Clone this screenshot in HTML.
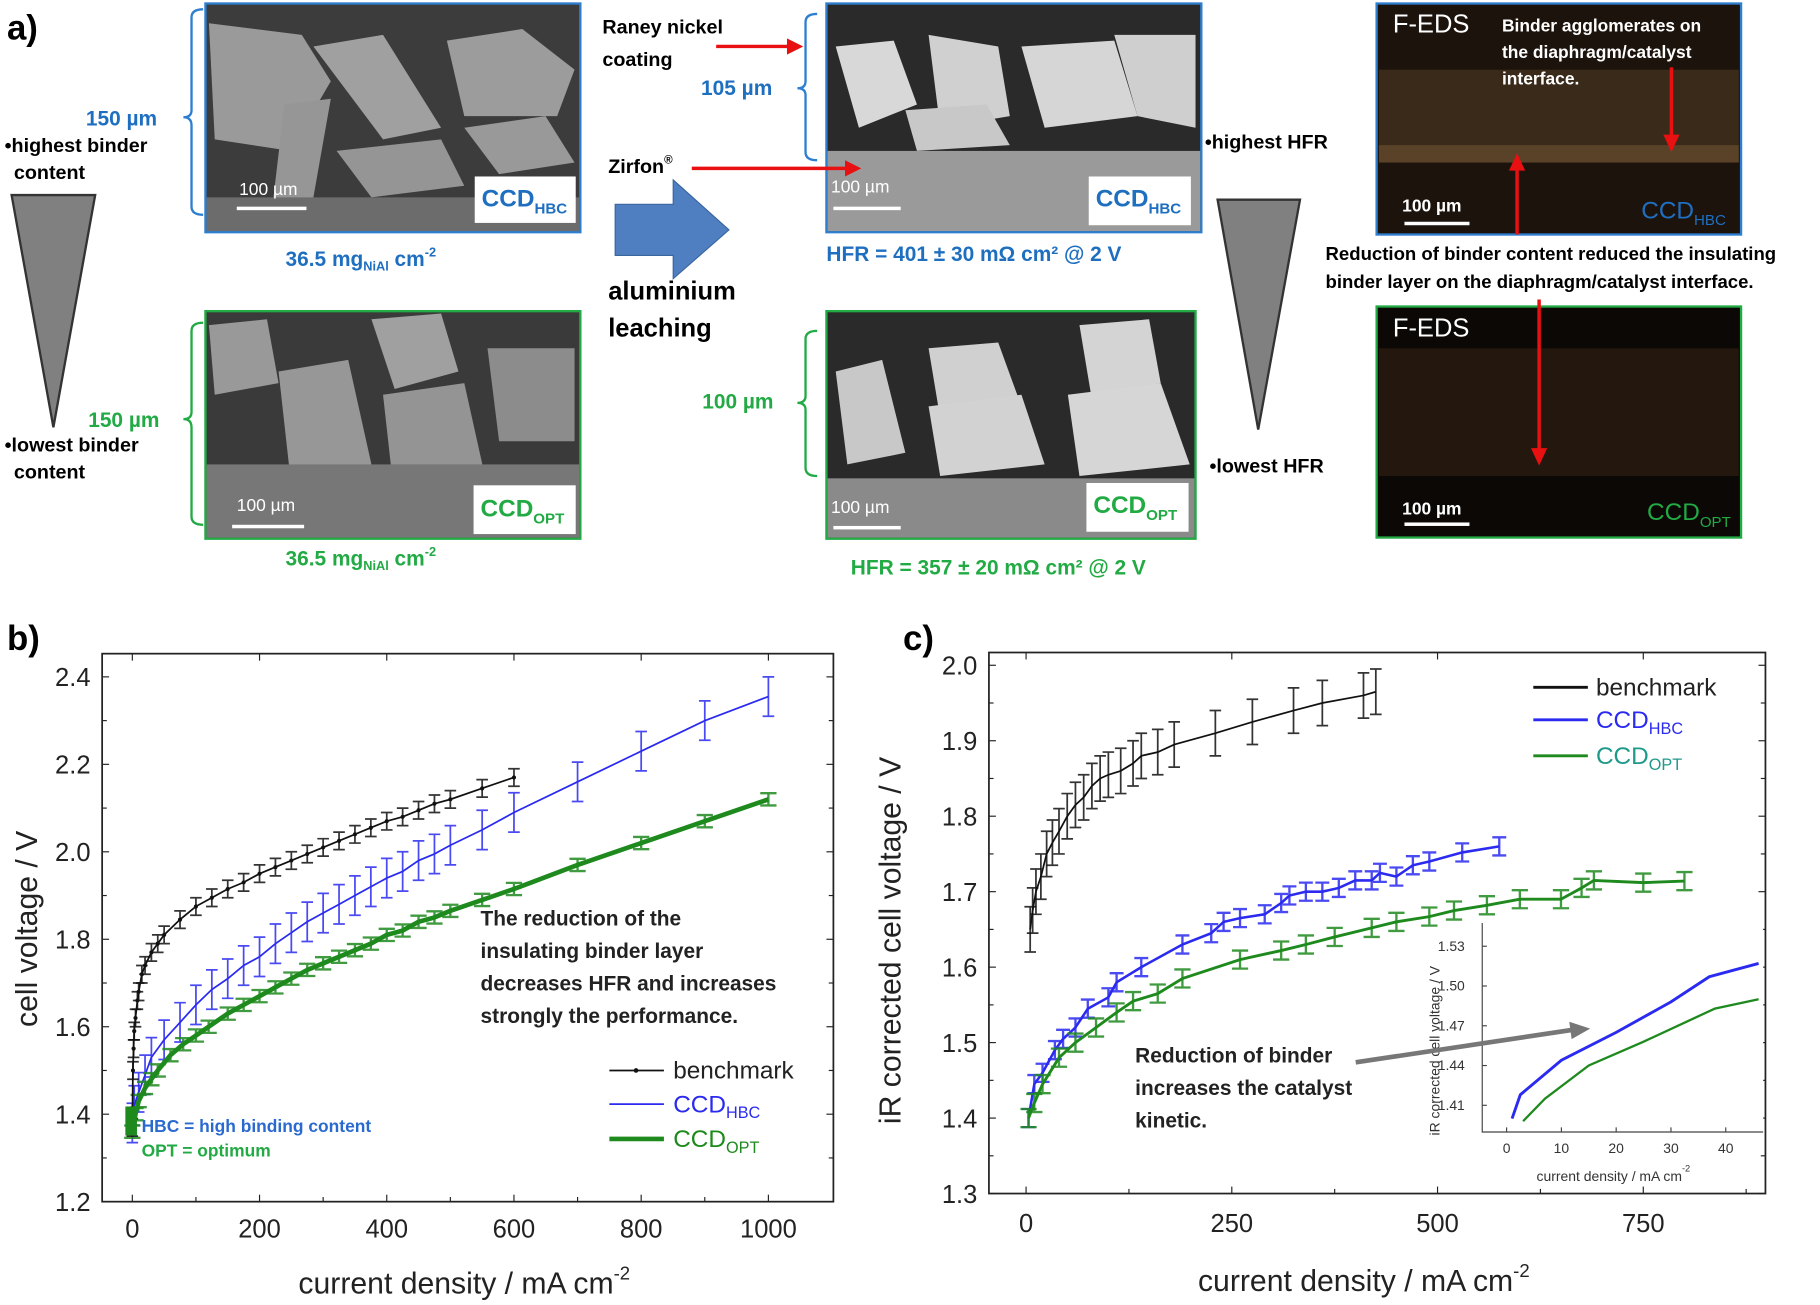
<!DOCTYPE html>
<html><head><meta charset="utf-8"><style>
html,body{margin:0;padding:0;background:#fff}
svg{display:block}
text{font-family:"Liberation Sans",sans-serif}
</style></head><body>
<svg id="s" width="1820" height="1305" viewBox="0 0 1568 1124" preserveAspectRatio="none" xmlns="http://www.w3.org/2000/svg">
<rect width="1568" height="1124" fill="#fff"/>
<text x="6" y="34" font-size="30" font-weight="bold">a)</text>
<g>
<rect x="177" y="3" width="323" height="197" fill="#3c3c3c" stroke="#2f7fd0" stroke-width="2"/>
<polygon points="180,20 260,30 285,70 250,130 185,120" fill="#9a9a9a"/>
<polygon points="270,40 330,30 380,110 330,120" fill="#a0a0a0"/>
<polygon points="385,35 450,25 495,60 480,100 400,100" fill="#9c9c9c"/>
<polygon points="290,130 380,120 400,160 320,170" fill="#959595"/>
<polygon points="400,110 470,100 495,140 430,150" fill="#999"/>
<polygon points="245,90 285,85 270,170 235,175" fill="#969696"/>
<rect x="178" y="170" width="321" height="29" fill="#6c6c6c"/>
<rect x="409" y="152" width="87" height="40" fill="#fff"/>
<text x="415" y="178" font-size="21" font-weight="bold" fill="#1f6fc0">CCD<tspan font-size="13" dy="6">HBC</tspan></text>
<text x="206" y="168" font-size="15" fill="#fff">100 µm</text><rect x="204" y="178" width="60" height="3" fill="#fff"/>
</g>
<g>
<rect x="177" y="268" width="323" height="196" fill="#3a3a3a" stroke="#22aa44" stroke-width="2"/>
<polygon points="180,280 230,275 240,330 185,340" fill="#999"/>
<polygon points="320,275 380,270 395,320 340,335" fill="#a0a0a0"/>
<polygon points="240,320 300,310 320,400 250,410" fill="#979797"/>
<polygon points="330,340 400,330 420,420 340,430" fill="#949494"/>
<polygon points="420,300 495,300 495,380 430,380" fill="#8c8c8c"/>
<rect x="178" y="400" width="321" height="63" fill="#777"/>
<rect x="408" y="418" width="88" height="42" fill="#fff"/>
<text x="414" y="445" font-size="21" font-weight="bold" fill="#22aa44">CCD<tspan font-size="13" dy="6">OPT</tspan></text>
<text x="204" y="440" font-size="15" fill="#fff">100 µm</text><rect x="200" y="452" width="62" height="3" fill="#fff"/>
</g>
<g>
<rect x="712" y="3" width="323" height="197" fill="#2a2a2a" stroke="#2f7fd0" stroke-width="2"/>
<polygon points="720,40 770,35 790,90 740,110" fill="#d8d8d8"/>
<polygon points="800,30 860,40 870,100 810,110" fill="#d0d0d0"/>
<polygon points="880,40 960,35 980,100 900,110" fill="#d6d6d6"/>
<polygon points="960,30 1030,30 1030,110 980,100" fill="#cfcfcf"/>
<polygon points="780,95 850,90 870,125 790,130" fill="#c8c8c8"/>
<rect x="713" y="130" width="321" height="69" fill="#9a9a9a"/>
<rect x="938" y="152" width="88" height="42" fill="#fff"/>
<text x="944" y="178" font-size="21" font-weight="bold" fill="#1f6fc0">CCD<tspan font-size="13" dy="6">HBC</tspan></text>
<text x="716" y="166" font-size="15" fill="#fff">100 µm</text><rect x="718" y="178" width="58" height="3" fill="#fff"/>
</g>
<g>
<rect x="712" y="268" width="318" height="196" fill="#2a2a2a" stroke="#22aa44" stroke-width="2"/>
<polygon points="800,300 860,295 880,350 810,360" fill="#d0d0d0"/>
<polygon points="930,280 990,275 1000,330 940,340" fill="#d4d4d4"/>
<polygon points="720,320 760,310 780,390 730,400" fill="#c8c8c8"/>
<polygon points="800,350 880,340 900,400 810,410" fill="#d2d2d2"/>
<polygon points="920,340 1000,330 1025,400 930,410" fill="#d6d6d6"/>
<rect x="713" y="412" width="316" height="51" fill="#8a8a8a"/>
<rect x="936" y="416" width="88" height="42" fill="#fff"/>
<text x="942" y="442" font-size="21" font-weight="bold" fill="#22aa44">CCD<tspan font-size="13" dy="6">OPT</tspan></text>
<text x="716" y="442" font-size="15" fill="#fff">100 µm</text><rect x="718" y="453" width="58" height="3" fill="#fff"/>
</g>
<g>
<rect x="1186" y="3" width="314" height="199" fill="#1c130c" stroke="#2f7fd0" stroke-width="2"/>
<rect x="1188" y="60" width="310" height="80" fill="#3a2a1a"/>
<rect x="1188" y="125" width="310" height="15" fill="#5a4228"/>
<text x="1200" y="28" font-size="22" fill="#fff">F-EDS</text>
<text x="1294" y="27" font-size="15" font-weight="bold" fill="#fff">Binder agglomerates on</text>
<text x="1294" y="50" font-size="15" font-weight="bold" fill="#fff">the diaphragm/catalyst</text>
<text x="1294" y="73" font-size="15" font-weight="bold" fill="#fff">interface.</text>
<text x="1208" y="182" font-size="15" font-weight="bold" fill="#fff">100 µm</text><rect x="1210" y="191" width="56" height="3" fill="#fff"/>
<text x="1414" y="188" font-size="21" fill="#1f6fc0">CCD<tspan font-size="13" dy="6">HBC</tspan></text>
</g>
<g>
<rect x="1186" y="264" width="314" height="199" fill="#0c0806" stroke="#22aa44" stroke-width="2"/>
<rect x="1188" y="300" width="310" height="110" fill="#2a1c10" opacity="0.8"/>
<text x="1200" y="290" font-size="22" fill="#fff">F-EDS</text>
<text x="1208" y="443" font-size="15" font-weight="bold" fill="#fff">100 µm</text><rect x="1210" y="450" width="56" height="3" fill="#fff"/>
<text x="1419" y="448" font-size="21" fill="#22aa44">CCD<tspan font-size="13" dy="6">OPT</tspan></text>
</g>
<g fill="#e81010" stroke="#e81010">
<line x1="1307" y1="202" x2="1307" y2="145" stroke-width="3"/><polygon points="1300,147 1314,147 1307,132" stroke="none"/>
<line x1="1440" y1="58" x2="1440" y2="118" stroke-width="3"/><polygon points="1433,116 1447,116 1440,131" stroke="none"/>
<line x1="1326" y1="258" x2="1326" y2="388" stroke-width="3"/><polygon points="1319,386 1333,386 1326,401" stroke="none"/>
<line x1="617" y1="40" x2="680" y2="40" stroke-width="3"/><polygon points="678,33 678,47 692,40" stroke="none"/>
<line x1="596" y1="145" x2="730" y2="145" stroke-width="3"/><polygon points="728,138 728,152 742,145" stroke="none"/>
</g>
<text x="1142" y="224" font-size="16" font-weight="bold">Reduction of  binder content reduced the insulating</text>
<text x="1142" y="248" font-size="16" font-weight="bold">binder layer on the diaphragm/catalyst interface.</text>
<g fill="none" stroke-width="2">
<path d="M175,8 Q165,8 165,15 L165,95 Q165,101 158,101 Q165,101 165,108 L165,178 Q165,185 175,185" stroke="#2f7fd0"/>
<path d="M175,278 Q165,278 165,285 L165,355 Q165,361 158,361 Q165,361 165,368 L165,445 Q165,452 175,452" stroke="#22aa44"/>
<path d="M704,12 Q694,12 694,19 L694,70 Q694,76 687,76 Q694,76 694,82 L694,131 Q694,138 704,138" stroke="#2f7fd0"/>
<path d="M704,285 Q694,285 694,292 L694,341 Q694,347 687,347 Q694,347 694,353 L694,403 Q694,410 704,410" stroke="#22aa44"/>
</g>
<g font-size="18" font-weight="bold">
<text x="74" y="108" fill="#1f6fc0">150 µm</text>
<text x="76" y="368" fill="#22aa44">150 µm</text>
<text x="604" y="82" fill="#1f6fc0">105 µm</text>
<text x="605" y="352" fill="#22aa44">100 µm</text>
<text x="246" y="229" fill="#1f6fc0">36.5 mg<tspan font-size="11" dy="4">NiAl</tspan><tspan dy="-4"> cm</tspan><tspan font-size="11" dy="-8">-2</tspan></text>
<text x="246" y="487" fill="#22aa44">36.5 mg<tspan font-size="11" dy="4">NiAl</tspan><tspan dy="-4"> cm</tspan><tspan font-size="11" dy="-8">-2</tspan></text>
<text x="712" y="225" fill="#1f6fc0">HFR = 401 ± 30 mΩ cm² @ 2 V</text>
<text x="733" y="495" fill="#22aa44">HFR = 357 ± 20 mΩ cm² @ 2 V</text>
</g>
<g font-size="17" font-weight="bold">
<text x="4" y="131">•highest binder</text><text x="12" y="154">content</text>
<text x="4" y="389">•lowest binder</text><text x="12" y="412">content</text>
<text x="1038" y="128">•highest HFR</text>
<text x="1042" y="407">•lowest HFR</text>
<text x="519" y="29">Raney nickel</text><text x="519" y="57">coating</text>
<text x="524" y="149">Zirfon<tspan font-size="10" dy="-8">®</tspan></text>
</g>
<text x="524" y="258" font-size="22" font-weight="bold">aluminium</text>
<text x="524" y="290" font-size="22" font-weight="bold">leaching</text>
<polygon points="530,176 580,176 580,155 628,198 580,240 580,220 530,220" fill="#4f7fc0" stroke="#3a66a0"/>
<polygon points="10,168 82,168 46,368" fill="#808080" stroke="#333" stroke-width="2"/>
<polygon points="1049,172 1120,172 1084,370" fill="#808080" stroke="#333" stroke-width="2"/>

<text x="6" y="560" font-size="30" font-weight="bold">b)</text>
<text x="778" y="560" font-size="30" font-weight="bold">c)</text>
<g id="plots"></g>
</svg>
<script>
var NS="http://www.w3.org/2000/svg",P=document.getElementById('plots');
function el(t,a,txt){var e=document.createElementNS(NS,t);for(var k in a)e.setAttribute(k,a[k]);if(txt!=null)e.textContent=txt;P.appendChild(e);return e;}
function path(pts,fx,fy){return pts.map(function(p,i){return (i?'L':'M')+fx(p[0]).toFixed(1)+','+fy(p[1]).toFixed(1)}).join('');}
// panel b
var bx=function(v){return 114+v*0.548},by=function(V){return 1035-(V-1.2)*376.67};
el('rect',{x:88,y:563,width:630,height:472,fill:'none',stroke:'#222','stroke-width':1.5});
[1.2,1.4,1.6,1.8,2.0,2.2,2.4].forEach(function(v){var y=by(v);el('line',{x1:88,y1:y,x2:94,y2:y,stroke:'#222'});el('line',{x1:718,y1:y,x2:712,y2:y,stroke:'#222'});el('text',{x:78,y:y+8,'font-size':22,'text-anchor':'end',fill:'#222'},v.toFixed(1));});
[1.3,1.5,1.7,1.9,2.1,2.3].forEach(function(v){var y=by(v);el('line',{x1:88,y1:y,x2:92,y2:y,stroke:'#222'});el('line',{x1:718,y1:y,x2:714,y2:y,stroke:'#222'});});
[0,200,400,600,800,1000].forEach(function(v){var x=bx(v);el('line',{x1:x,y1:1035,x2:x,y2:1029,stroke:'#222'});el('line',{x1:x,y1:563,x2:x,y2:569,stroke:'#222'});el('text',{x:x,y:1066,'font-size':22,'text-anchor':'middle',fill:'#222'},v);});
[100,300,500,700,900].forEach(function(v){var x=bx(v);el('line',{x1:x,y1:1035,x2:x,y2:1031,stroke:'#222'});});
el('text',{x:400,y:1114,'font-size':26,'text-anchor':'middle',fill:'#222'}).innerHTML='current density / mA cm<tspan font-size="16" dy="-12">-2</tspan>';
el('text',{x:32,y:800,'font-size':26,'text-anchor':'middle',fill:'#222',transform:'rotate(-90 32 800)'},'cell voltage / V');
function series(d,fx,fy,col,w,e,cap){el('path',{d:path(d,fx,fy),fill:'none',stroke:col,'stroke-width':w});
 d.forEach(function(p){var x=fx(p[0]),y1=fy(p[1]+e),y2=fy(p[1]-e);el('path',{d:'M'+x+','+y1+'V'+y2+'M'+(x-cap)+','+y1+'h'+2*cap+'M'+(x-cap)+','+y2+'h'+2*cap,stroke:col,'stroke-width':Math.min(w,2),fill:'none',opacity:0.85});});}
var bb=[[0,1.37],[1,1.5],[2,1.55],[3,1.59],[5,1.62],[8,1.66],[10,1.68],[15,1.72],[20,1.74],[30,1.77],[40,1.79],[50,1.81],[75,1.845],[100,1.875],[125,1.895],[150,1.915],[175,1.93],[200,1.95],[225,1.965],[250,1.98],[275,1.995],[300,2.01],[325,2.025],[350,2.04],[375,2.055],[400,2.07],[425,2.08],[450,2.095],[475,2.11],[500,2.12],[550,2.145],[600,2.17]];
var bh=[[0,1.38],[3,1.42],[10,1.45],[20,1.49],[30,1.53],[50,1.57],[75,1.61],[100,1.65],[125,1.685],[150,1.71],[175,1.74],[200,1.76],[225,1.79],[250,1.815],[275,1.84],[300,1.86],[325,1.88],[350,1.9],[375,1.92],[400,1.94],[425,1.955],[450,1.98],[475,1.995],[500,2.015],[550,2.05],[600,2.09],[700,2.16],[800,2.23],[900,2.3],[1000,2.355]];
var bo=[[0,1.36],[5,1.4],[10,1.43],[20,1.46],[30,1.48],[40,1.5],[60,1.535],[80,1.56],[100,1.58],[120,1.6],[150,1.63],[175,1.65],[200,1.67],[225,1.69],[250,1.71],[275,1.73],[300,1.745],[325,1.76],[350,1.775],[375,1.79],[400,1.81],[425,1.82],[450,1.84],[475,1.85],[500,1.865],[550,1.89],[600,1.915],[700,1.97],[800,2.02],[900,2.07],[1000,2.12]];
series(bh,bx,by,'#2a2af0',1.5,0.045,5);
series(bo,bx,by,'#1e8a1e',4,0.014,7);
series(bb,bx,by,'#111',1.5,0.02,5);
bb.forEach(function(p){el('circle',{cx:bx(p[0]),cy:by(p[1]),r:1.8,fill:'#111'});});
el('rect',{x:108,y:953,width:10,height:25,fill:'#1e8a1e'});
var tx=[['The reduction of the',797],['insulating binder layer',825],['decreases HFR and  increases',853],['strongly the performance.',881]];
tx.forEach(function(t){el('text',{x:414,y:t[1],'font-size':18,'font-weight':'bold',fill:'#222'},t[0]);});
el('text',{x:122,y:975,'font-size':15,'font-weight':'bold',fill:'#2a6ad0'},'HBC = high binding content');
el('text',{x:122,y:996,'font-size':15,'font-weight':'bold',fill:'#22aa44'},'OPT = optimum');
el('line',{x1:525,y1:922,x2:572,y2:922,stroke:'#111','stroke-width':1.5});el('circle',{cx:548,cy:922,r:2,fill:'#111'});
el('text',{x:580,y:929,'font-size':21,fill:'#222'},'benchmark');
el('line',{x1:525,y1:951,x2:572,y2:951,stroke:'#2a2af0','stroke-width':1.5});
el('text',{x:580,y:958,'font-size':21,fill:'#2a2af0'}).innerHTML='CCD<tspan font-size="14" dy="5">HBC</tspan>';
el('line',{x1:525,y1:981,x2:572,y2:981,stroke:'#1e8a1e','stroke-width':4});
el('text',{x:580,y:988,'font-size':21,fill:'#1e8a1e'}).innerHTML='CCD<tspan font-size="14" dy="5">OPT</tspan>';
// panel c
var L=852,R=1521;
var cx=function(v){return 884+v*0.709},cy=function(V){return 1028-(V-1.3)*650};
el('rect',{x:L,y:562,width:R-L,height:466,fill:'none',stroke:'#222','stroke-width':1.5});
[1.3,1.4,1.5,1.6,1.7,1.8,1.9,2.0].forEach(function(v){var y=cy(v);el('line',{x1:L,y1:y,x2:L+6,y2:y,stroke:'#222'});el('line',{x1:R,y1:y,x2:R-6,y2:y,stroke:'#222'});el('text',{x:L-10,y:y+8,'font-size':22,'text-anchor':'end',fill:'#222'},v.toFixed(1));});
[1.35,1.45,1.55,1.65,1.75,1.85,1.95].forEach(function(v){var y=cy(v);el('line',{x1:L,y1:y,x2:L+4,y2:y,stroke:'#222'});el('line',{x1:R,y1:y,x2:R-4,y2:y,stroke:'#222'});});
[0,250,500,750].forEach(function(v){var x=cx(v);el('line',{x1:x,y1:1028,x2:x,y2:1022,stroke:'#222'});el('line',{x1:x,y1:562,x2:x,y2:568,stroke:'#222'});el('text',{x:x,y:1061,'font-size':22,'text-anchor':'middle',fill:'#222'},v);});
[125,375,625,875].forEach(function(v){var x=cx(v);el('line',{x1:x,y1:1028,x2:x,y2:1024,stroke:'#222'});});
el('text',{x:1175,y:1112,'font-size':26,'text-anchor':'middle',fill:'#222'}).innerHTML='current density / mA cm<tspan font-size="16" dy="-12">-2</tspan>';
el('text',{x:776,y:810,'font-size':26,'text-anchor':'middle',fill:'#222',transform:'rotate(-90 776 810)'},'iR corrected cell voltage / V');
var cb=[[5,1.65],[8,1.675],[12,1.7],[18,1.72],[25,1.75],[32,1.765],[40,1.78],[50,1.8],[60,1.815],[70,1.825],[80,1.84],[90,1.85],[100,1.855],[115,1.86],[130,1.87],[140,1.88],[160,1.885],[180,1.895],[230,1.91],[275,1.925],[325,1.94],[360,1.95],[410,1.96],[425,1.965]];
var ch=[[3,1.4],[10,1.445],[20,1.46],[35,1.49],[45,1.505],[60,1.52],[75,1.545],[100,1.56],[110,1.58],[140,1.6],[190,1.63],[225,1.645],[240,1.66],[260,1.665],[290,1.67],[310,1.685],[320,1.695],[340,1.7],[360,1.7],[380,1.705],[400,1.715],[420,1.715],[430,1.725],[450,1.72],[470,1.735],[490,1.74],[530,1.752],[575,1.76]];
var co=[[3,1.4],[10,1.42],[20,1.445],[40,1.48],[60,1.5],[85,1.52],[110,1.54],[130,1.555],[160,1.565],[190,1.585],[260,1.61],[310,1.622],[340,1.63],[375,1.64],[420,1.652],[450,1.66],[490,1.667],[520,1.675],[560,1.682],[600,1.69],[650,1.69],[675,1.705],[690,1.715],[750,1.712],[800,1.714]];
series(cb,cx,cy,'#111',1.5,0.03,5);
series(ch,cx,cy,'#2a2af0',2.2,0.012,6);
series(co,cx,cy,'#1e8a1e',2.5,0.012,7);
el('line',{x1:1321,y1:592,x2:1368,y2:592,stroke:'#111','stroke-width':2.5});
el('text',{x:1375,y:599,'font-size':21,fill:'#222'},'benchmark');
el('line',{x1:1321,y1:620,x2:1368,y2:620,stroke:'#2a2af0','stroke-width':2.5});
el('text',{x:1375,y:627,'font-size':21,fill:'#2a2af0'}).innerHTML='CCD<tspan font-size="14" dy="5">HBC</tspan>';
el('line',{x1:1321,y1:651,x2:1368,y2:651,stroke:'#1e8a1e','stroke-width':2.5});
el('text',{x:1375,y:658,'font-size':21,fill:'#1e9a8a'}).innerHTML='CCD<tspan font-size="14" dy="5">OPT</tspan>';
el('rect',{x:1275,y:795,width:244,height:182,fill:'#fff'});
el('path',{d:'M1277,795V975H1519',stroke:'#444',fill:'none'});
var ix=function(v){return 1298+v*4.72},iy=function(V){return 952-(V-1.41)*1141.7};
[0,10,20,30,40].forEach(function(v){el('line',{x1:ix(v),y1:975,x2:ix(v),y2:971,stroke:'#444'});el('text',{x:ix(v),y:993,'font-size':12,'text-anchor':'middle',fill:'#333'},v);});
[1.41,1.44,1.47,1.5,1.53].forEach(function(v){el('line',{x1:1277,y1:iy(v),x2:1281,y2:iy(v),stroke:'#444'});el('text',{x:1262,y:iy(v)+4,'font-size':12,'text-anchor':'end',fill:'#333'},v.toFixed(2));});
el('text',{x:1390,y:1017,'font-size':12,'text-anchor':'middle',fill:'#333'}).innerHTML='current density / mA cm<tspan font-size="8" dy="-8">-2</tspan>';
el('text',{x:1240,y:905,'font-size':12,'text-anchor':'middle',fill:'#333',transform:'rotate(-90 1240 905)'},'iR corrected cell voltage / V');
el('path',{d:path([[1,1.4],[2.5,1.418],[10,1.444],[20,1.465],[30,1.488],[37,1.507],[46,1.517]],ix,iy),stroke:'#2a2af0','stroke-width':2.5,fill:'none'});
el('path',{d:path([[3,1.398],[7,1.415],[15,1.44],[25,1.458],[38,1.483],[46,1.49]],ix,iy),stroke:'#1e8a1e','stroke-width':2,fill:'none'});
el('line',{x1:1168,y1:915,x2:1355,y2:887,stroke:'#777','stroke-width':4});
el('polygon',{points:'1352,880 1370,886 1354,895',fill:'#777'});
[['Reduction of binder',915],['increases the catalyst',943],['kinetic.',971]].forEach(function(t){el('text',{x:978,y:t[1],'font-size':18,'font-weight':'bold',fill:'#222'},t[0]);});
</script>
</body></html>
